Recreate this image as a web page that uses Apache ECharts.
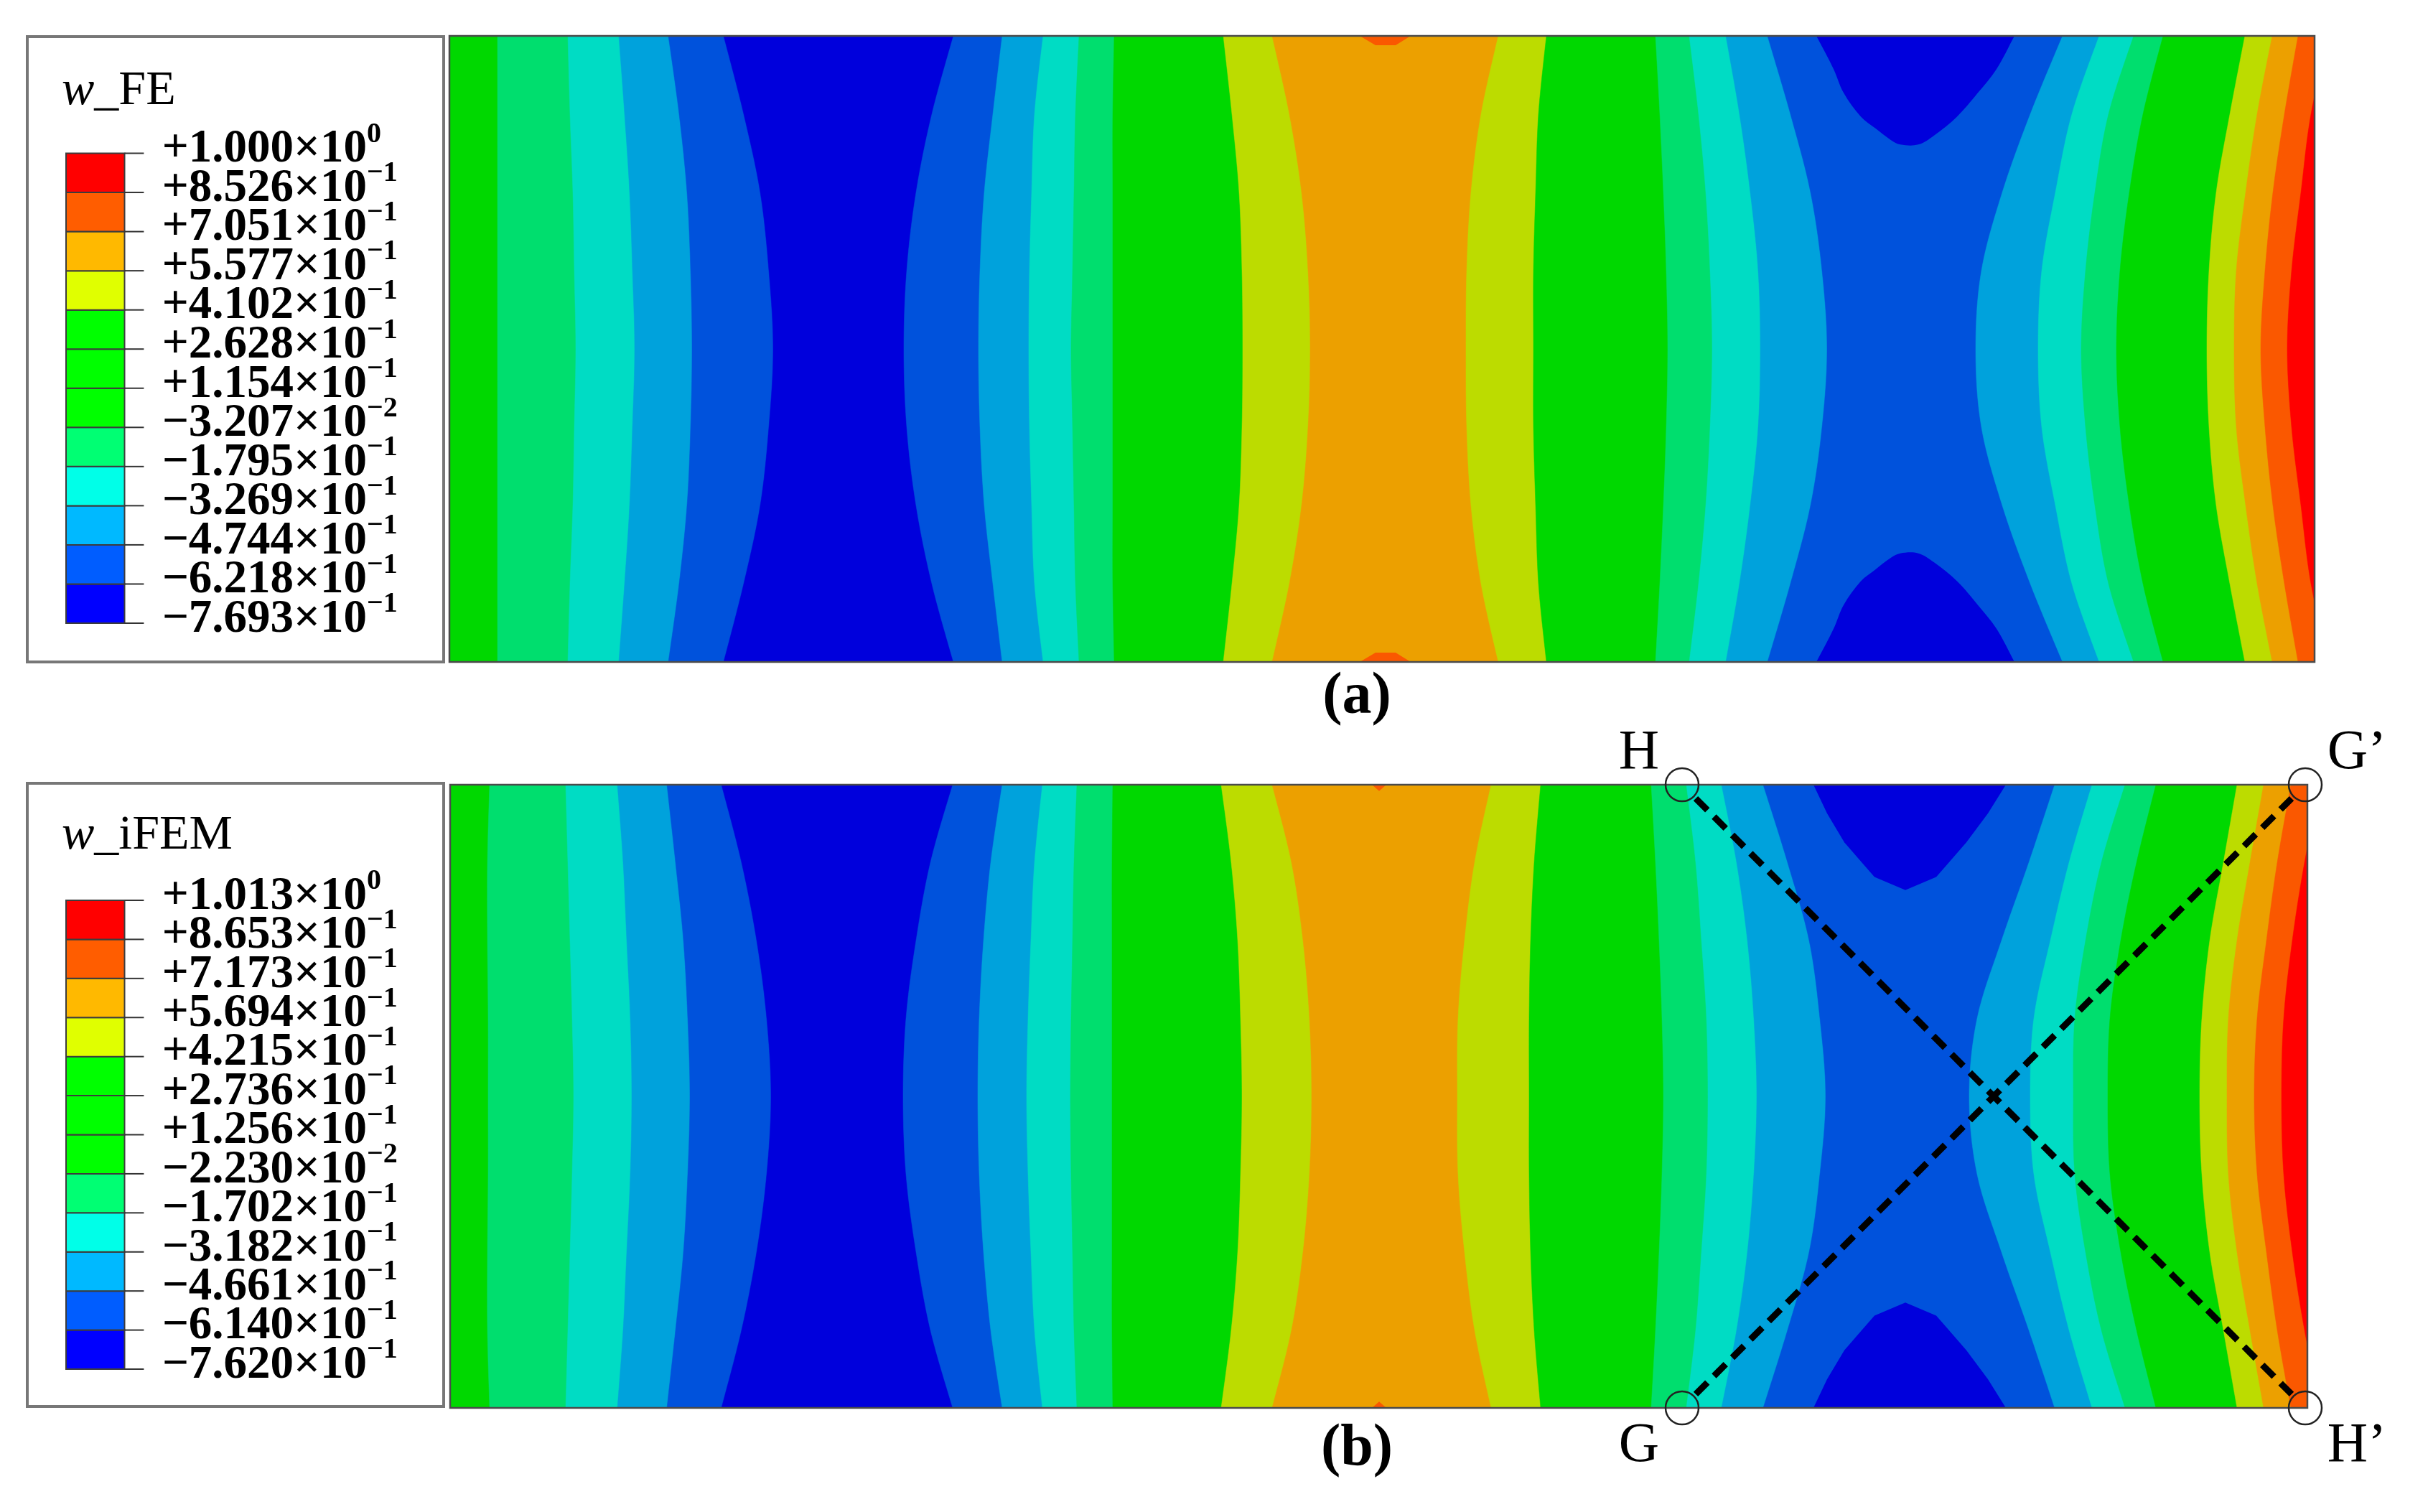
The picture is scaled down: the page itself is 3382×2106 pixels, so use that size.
<!DOCTYPE html>
<html>
<head>
<meta charset="utf-8">
<style>html,body{margin:0;padding:0;background:#fff}#c{width:3382px;height:2106px}</style>
<script src="https://cdn.jsdelivr.net/npm/echarts@6/dist/echarts.min.js"></script>
</head>
<body>
<div id="c"></div>
<script>
// distance from the plate's long edge, as a fraction of the half-width (mid-line = 1)
const edgeLevels = [0, 0.25, 0.5, 0.75, 1];

// contour-band colours, left to right along the plate
const G='#00d800',T='#00de6e',C='#00dcc4',L='#00a2dc',B='#0052dc',D='#0000dc',Y='#bcdc00',O='#eca000',R='#fa5800',X='#ff0000';
const bandColors = [G,T,C,L,B,D,B,L,C,T,G,Y,O,Y,G,T,C,L,B,L,C,T,G,Y,O,R,X];

// contour boundaries: position along the plate at each edge level
const boundariesFE = [
  [67,67,67,67,67],[165,168,172,174,176],[236,244,251,255,258],[305,320,331,336,338],
  [382,410,433,445,451],[702,672,650,637,633],[770,757,745,739,737],[827,815,811,808,807],
  [877,872,870,868,866],[926,924,924,924,924],[1078,1090,1100,1104,1105],[1146,1170,1187,1196,1199],
  [1461,1437,1423,1417,1416],[1528,1517,1513,1510,1510],[1680,1686,1691,1695,1697],[1727,1740,1750,1756,1759],
  [1778,1797,1812,1823,1826],[1836,1868,1896,1912,1919],[2247,2202,2163,2134,2126],[2298,2260,2237,2218,2213],
  [2346,2311,2292,2279,2273],[2387,2359,2340,2327,2322],[2501,2480,2461,2451,2448],[2539,2518,2502,2489,2486],
  [2575,2556,2540,2529,2523],[2618,2593,2579,2566,2560]
];
const boundariesIFEM = [
  [55,52,52,53,53],[161,164,167,170,172],[233,241,246,251,253],[302,314,325,331,334],
  [378,406,427,441,447],[700,669,649,635,631],[769,753,743,737,735],[825,814,809,805,803],
  [873,869,867,865,864],[923,922,922,922,922],[1074,1088,1097,1101,1103],[1145,1172,1188,1197,1200],
  [1450,1427,1413,1404,1403],[1519,1510,1505,1503,1503],[1673,1679,1684,1688,1690],[1722,1735,1743,1750,1752],
  [1771,1792,1807,1816,1820],[1829,1863,1893,1908,1916],[2235,2199,2161,2127,2116],[2287,2255,2229,2206,2201],
  [2333,2300,2278,2263,2261],[2376,2349,2327,2312,2309],[2489,2470,2451,2440,2437],[2526,2507,2489,2477,2475],
  [2564,2545,2530,2517,2513],[2605,2583,2566,2554,2551]
];

// closed pockets touching the long edges: [along, edge level]
const pocketFE = [[1880,-.1],[1904,0],[1928,.106],[1942,.182],[1966,.258],[1986,.295],[2008,.333],[2021,.347],[2046,.347],[2068,.318],[2100,.258],[2129,.182],[2155,.106],[2180,0],[2204,-.1]];
const pocketIFEM = [[1899,0],[1918,.092],[1942,.185],[1965,.246],[1984,.296],[2027,.338],[2070,.296],[2089,.246],[2112,.185],[2142,.092],[2167,0]];
const capFE = [[1268,0],[1290,.03],[1318,.03],[1339,0]];
const capIFEM = [[1284,0],[1294,.02],[1304,0]];

// legend
const legendColors = ['#0000ff','#005dff','#00b9ff','#00ffe8','#00ff73','#00ff00','#00ff00','#00ff00','#e0ff00','#ffb900','#ff5d00','#ff0000'];
const mantissaFE = ['+1.000','+8.526','+7.051','+5.577','+4.102','+2.628','+1.154','−3.207','−1.795','−3.269','−4.744','−6.218','−7.693'];
const exponentFE = ['0','−1','−1','−1','−1','−1','−1','−2','−1','−1','−1','−1','−1'];
const mantissaIFEM = ['+1.013','+8.653','+7.173','+5.694','+4.215','+2.736','+1.256','−2.230','−1.702','−3.182','−4.661','−6.140','−7.620'];
const exponentIFEM = ['0','−1','−1','−1','−1','−1','−1','−2','−1','−1','−1','−1','−1'];

// section lines and their end markers on the lower plate
const lineHH = [[1735,0.044],[2565,1.956]];
const lineGG = [[1735,1.956],[2565,0.044]];
const markers = [
  {name:'H', value:[1716,0], side:'tl'},
  {name:'G’',value:[2584,0], side:'tr'},
  {name:'G', value:[1716,2], side:'bl'},
  {name:'H’',value:[2584,2], side:'br'}
];

const SERIF = '"Liberation Serif","Times New Roman",serif';

function curve(xs){
  // draws the boundary through the read points, mirrored about the mid-line
  const pts = edgeLevels.map((t,i)=>[xs[i],t]);
  for(let i=edgeLevels.length-2;i>=0;i--) pts.push([xs[i],2-edgeLevels[i]]);
  const out=[];
  for(let i=0;i<pts.length-1;i++){
    const p0=pts[Math.max(i-1,0)],p1=pts[i],p2=pts[i+1],p3=pts[Math.min(i+2,pts.length-1)];
    for(let k=0;k<12;k++){
      const u=k/12,u2=u*u,u3=u2*u;
      const f=j=>0.5*(2*p1[j]+(p2[j]-p0[j])*u+(2*p0[j]-5*p1[j]+4*p2[j]-p3[j])*u2+(3*p1[j]-p0[j]-3*p2[j]+p3[j])*u3);
      out.push([f(0),f(1)]);
    }
  }
  out.push(pts[pts.length-1]);
  return out;
}

function fieldSeries(ax, bounds, pocket, cap, width, pocketSmooth){
  const farRight = width+200;
  const fills = [{
    type:'custom',xAxisIndex:ax,yAxisIndex:ax,clip:true,silent:true,z:2,
    data:bandColors.map((c,i)=>[i]),
    renderItem(p,api){
      const i=api.value(0);
      const line = i===0 ? [[-200,0],[-200,2]] : curve(bounds[i-1]);
      const poly=line.concat([[farRight,2],[farRight,0]]).map(q=>api.coord(q));
      return {type:'polygon',shape:{points:poly},style:{fill:bandColors[i],stroke:bandColors[i],lineWidth:0.5}};
    }
  },{
    type:'custom',xAxisIndex:ax,yAxisIndex:ax,clip:true,silent:true,z:3,
    data:[[0,0],[1,0]],
    renderItem(p,api){
      const flip=api.value(0)===1;
      const mk=a=>a.map(q=>api.coord([q[0],flip?2-q[1]:q[1]]));
      return {type:'group',children:[
        {type:'polygon',shape:{points:mk(pocket),smooth:pocketSmooth},style:{fill:D}},
        {type:'polygon',shape:{points:mk(cap)},style:{fill:R}}
      ]};
    }
  },{
    type:'custom',xAxisIndex:ax,yAxisIndex:ax,clip:false,silent:true,z:4,
    data:[[0]],
    renderItem(p,api){
      const a=api.coord([0,0]),b=api.coord([width,2]);
      return {type:'rect',shape:{x:a[0],y:a[1],width:b[0]-a[0],height:b[1]-a[1]},style:{fill:'none',stroke:'#4a4a4a',lineWidth:2.5}};
    }
  }];
  return fills;
}

function legendSeries(ax,mant,exp){
  return [{
    type:'custom',xAxisIndex:ax,yAxisIndex:ax,clip:false,silent:true,z:3,
    data:legendColors.map((c,i)=>[i]),
    renderItem(p,api){
      const i=api.value(0);
      const a=api.coord([0,i+1]),b=api.coord([1,i]);
      return {type:'rect',shape:{x:a[0],y:a[1],width:b[0]-a[0],height:b[1]-a[1]},
        style:{fill:legendColors[i],stroke:'#3c3c3c',lineWidth:2}};
    }
  },{
    type:'custom',xAxisIndex:ax,yAxisIndex:ax,clip:false,silent:true,z:4,
    data:mant.map((m,i)=>[12-i]),
    renderItem(p,api){
      const v=api.value(0);
      const a=api.coord([1,v]),t=api.coord([1.33,v]),l=api.coord([1.64,v]);
      return {type:'group',children:[
        {type:'line',shape:{x1:a[0],y1:a[1],x2:t[0],y2:t[1]},style:{stroke:'#333',lineWidth:2}},
        {type:'text',x:l[0],y:l[1],style:{
          text:`{m|${mant[12-v]}×10}{e|${exp[12-v]}}`,
          align:'left',verticalAlign:'middle',
          rich:{
            m:{fontFamily:SERIF,fontWeight:'bold',fontSize:65,fill:'#000',padding:[0,0,10,0]},
            e:{fontFamily:SERIF,fontWeight:'bold',fontSize:40,fill:'#000',padding:[0,0,52,0]}
          }
        }}
      ]};
    }
  }];
}
const hidden=(grid,max)=>({type:'value',gridIndex:grid,min:0,max,show:false});

const titleRich={
  i:{fontFamily:SERIF,fontStyle:'italic',fontWeight:'normal',fontSize:68,color:'#000'},
  r:{fontFamily:SERIF,fontWeight:'normal',fontSize:68,color:'#000'}
};
const capStyle={fontFamily:SERIF,fontWeight:'bold',fontSize:82,color:'#000'};

const option={
  backgroundColor:'#fff',
  animation:false,
  title:[
    {text:'{i|w}{r|_FE}',left:86,top:93,padding:0,textStyle:{rich:titleRich}},
    {text:'{i|w}{r|_iFEM}',left:86,top:1130,padding:0,textStyle:{rich:titleRich}},
    {text:'(a)',left:1890,top:931,padding:0,textAlign:'center',textStyle:capStyle},
    {text:'(b)',left:1890,top:1978,padding:0,textAlign:'center',textStyle:capStyle}
  ],
  graphic:[
    {type:'rect',shape:{x:38,y:51,width:580,height:871},style:{fill:'#fff',stroke:'#777',lineWidth:4},z:-1},
    {type:'rect',shape:{x:38,y:1091,width:580,height:868},style:{fill:'#fff',stroke:'#777',lineWidth:4},z:-1}
  ],
  grid:[
    {left:626,top:50,width:2598,height:872},
    {left:627,top:1093,width:2587,height:868},
    {left:92,top:213.5,width:81.5,height:654.5},
    {left:92,top:1254,width:81.5,height:653}
  ],
  xAxis:[hidden(0,2598),hidden(1,2587),hidden(2,1),hidden(3,1)],
  yAxis:[
    {type:'value',gridIndex:0,min:0,max:2,inverse:true,show:false},
    {type:'value',gridIndex:1,min:0,max:2,inverse:true,show:false},
    hidden(2,12),
    hidden(3,12)
  ],
  series:[
    ...fieldSeries(0,boundariesFE,pocketFE,capFE,2598,0.35),
    ...fieldSeries(1,boundariesIFEM,pocketIFEM,capIFEM,2587,0),
    ...legendSeries(2,mantissaFE,exponentFE),
    ...legendSeries(3,mantissaIFEM,exponentIFEM),
    ...[lineHH,lineGG].map(d=>({
      type:'line',xAxisIndex:1,yAxisIndex:1,data:d,showSymbol:false,silent:true,z:6,clip:false,
      lineStyle:{color:'#000',width:9,type:[23,13],cap:'butt'}
    })),
    {
      type:'scatter',xAxisIndex:1,yAxisIndex:1,clip:false,silent:true,z:7,
      symbol:'circle',symbolSize:46,
      itemStyle:{color:'rgba(0,0,0,0)',borderColor:'#222',borderWidth:2.5,opacity:1},
      data:markers.map(m=>({
        name:m.name,value:m.value,
        label:{show:true,formatter:'{b}',color:'#000',fontFamily:SERIF,fontSize:78,
          position:'inside',
          offset:[m.side[1]==='l'?-60:72, m.side[0]==='t'?-43:54]}
      }))
    }
  ]
};
echarts.init(document.getElementById('c'),null,{renderer:'canvas'}).setOption(option);
</script>
</body>
</html>
